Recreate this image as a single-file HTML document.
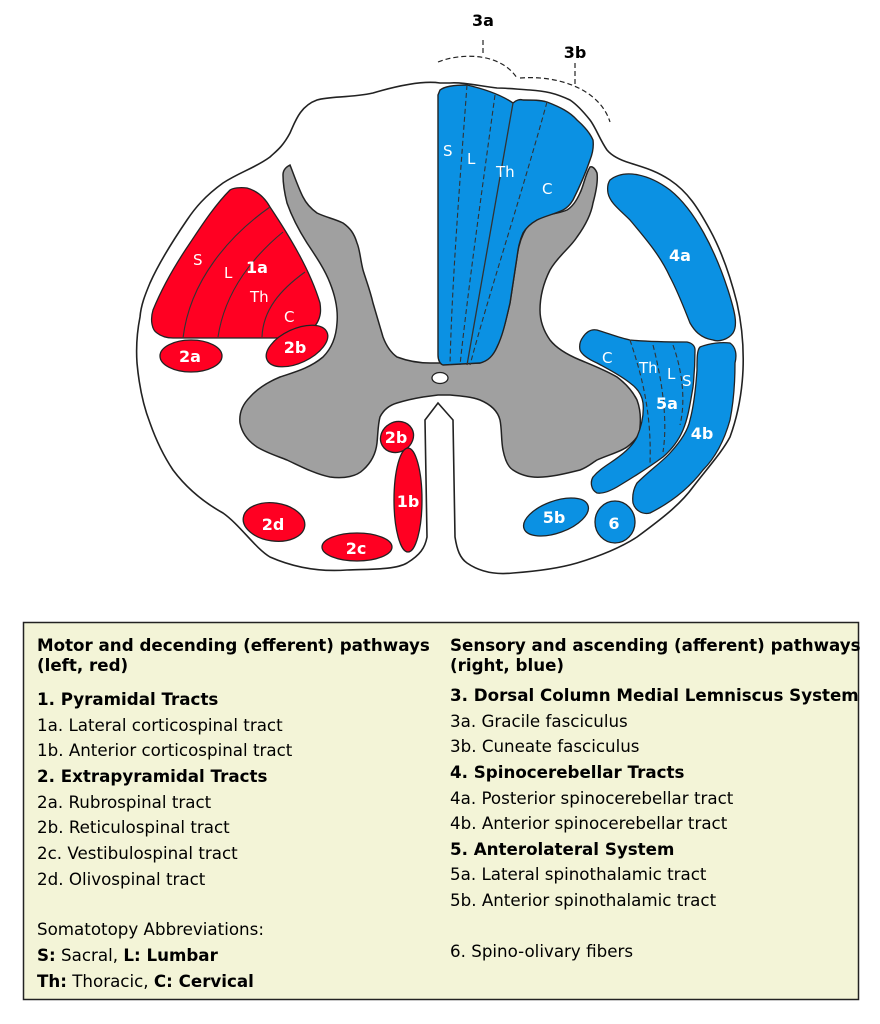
<!DOCTYPE html>
<html><head><meta charset="utf-8"><style>
html,body{margin:0;padding:0;background:#fff;}
svg{display:block;}
text{font-family:"DejaVu Sans","Liberation Sans",sans-serif;}
</style></head><body>
<svg width="880" height="1024" viewBox="0 0 880 1024" xmlns="http://www.w3.org/2000/svg">
<path d="M440 83 C420 80 390 88 373 93 C350 98 330 96 317 100 C300 106 295 122 290 133 C282 148 275 152 270 157 C255 168 240 172 223 183 C205 196 195 208 187 220 C170 245 158 265 150 283 C145 295 141 305 140 317 C137 332 136 348 137 363 C139 385 143 405 150 423 C156 440 163 455 173 470 C188 490 205 503 223 513 C240 525 255 548 270 557 C295 568 320 572 347 570 C370 569 395 570 407 563 C420 555 425 548 427 537 L425 420 L438 403 L453 420 L455 537 C457 550 460 558 467 563 C480 572 495 575 513 573 C540 571 560 568 577 563 C600 556 620 548 637 537 C660 520 680 505 693 487 C710 465 722 452 730 437 C738 415 742 392 743 370 C744 345 742 325 737 303 C730 275 722 252 710 230 C698 208 688 192 670 180 C655 170 642 167 630 163 C620 160 612 156 607 150 C600 140 596 128 590 120 C582 110 576 104 570 100 C555 93 545 91 530 90 C515 89 505 88 497 88 C480 86 462 82 450 83 Z" fill="#fff" stroke="#222" stroke-width="1.6"/>
<path d="M290 165 C286 167 283 170 283 175 C283 185 285 195 287 203 C293 220 300 232 307 243 C317 258 325 270 330 283 C336 298 338 312 337 323 C336 340 330 350 323 357 C310 368 295 372 280 377 C268 382 258 388 250 397 C242 405 239 414 240 423 C242 433 248 441 257 447 C267 453 277 456 287 460 C300 466 315 474 330 477 C345 479 357 476 363 470 C372 462 376 452 377 443 C378 433 378 424 380 417 C384 409 390 405 397 403 C410 399 417 398 423 397 L438 395 L450 395 C462 396 472 397 480 400 C492 405 498 412 500 420 C502 430 501 440 503 450 C505 460 508 467 513 470 C522 476 532 478 543 477 C556 476 568 473 580 470 C588 467 592 463 597 460 C608 455 620 452 627 447 C636 440 640 434 640 427 C641 417 640 408 637 400 C632 390 625 383 617 377 C605 370 592 365 580 360 C568 355 557 349 550 340 C543 330 540 320 540 310 C540 295 544 282 550 270 C558 256 570 248 577 237 C585 226 591 215 593 203 C596 192 598 180 597 173 C595 168 592 166 590 167 C585 175 584 185 580 193 C576 202 572 207 567 210 C558 214 548 214 540 217 C533 220 529 223 527 227 C520 238 518 248 517 257 L510 303 C506 320 503 333 497 347 C493 356 488 360 480 363 L430 363 C415 363 405 360 397 357 C390 352 386 345 383 337 L373 303 C370 290 366 280 363 270 C360 258 360 250 357 243 C354 233 350 228 343 223 C335 219 325 217 317 213 C310 208 306 203 303 197 C298 187 294 175 290 165 Z" fill="#a0a0a0" stroke="#222" stroke-width="1.5"/>
<ellipse cx="440" cy="378" rx="8" ry="5.5" fill="#fff" stroke="#222" stroke-width="1.3"/>
<path d="M440 90 C445 86 455 85 467 85 C480 88 500 94 513 103 C516 100 520 99 523 100 C533 100 540 100 547 102 C560 107 570 112 577 120 C585 127 590 133 593 140 C594 148 592 155 590 160 C585 175 578 190 573 200 C570 205 567 208 563 210 C555 214 545 216 537 220 C530 224 526 228 523 233 C519 242 518 250 517 257 L510 303 C506 320 503 335 497 347 C493 356 488 361 480 363 L443 365 C440 364 438 360 438 355 L438 95 Z" fill="#0b91e3" stroke="#222" stroke-width="1.4"/>
<path d="M513 103 L467 365" stroke="#333" stroke-width="1.3" fill="none"/>
<path d="M467 85 C460 180 452 280 450 365" stroke="#333" stroke-width="1.1" fill="none" stroke-dasharray="5,3"/>
<path d="M495 95 C482 190 468 290 460 365" stroke="#333" stroke-width="1.1" fill="none" stroke-dasharray="5,3"/>
<path d="M547 102 C520 200 490 290 470 365" stroke="#333" stroke-width="1.1" fill="none" stroke-dasharray="5,3"/>
<path d="M610 180 C625 168 650 175 670 190 C695 210 715 250 728 290 C735 312 738 325 733 333 C728 340 718 342 713 340 C700 338 694 330 690 323 C684 308 678 292 670 277 C660 255 645 238 630 220 C620 210 610 203 608 193 C607 187 608 183 610 180 Z" fill="#0b91e3" stroke="#222" stroke-width="1.3"/>
<path d="M700 347 C710 343 722 342 730 343 C736 347 737 355 735 363 C735 385 733 405 730 420 C723 445 713 460 703 470 C690 487 672 502 650 513 C642 515 635 510 633 503 C632 495 634 488 637 483 C650 470 662 462 670 453 C682 440 688 430 690 420 C694 405 696 385 697 370 C697 358 697 350 700 347 Z" fill="#0b91e3" stroke="#222" stroke-width="1.3"/>
<path d="M583 337 C587 331 592 329 597 330 C610 334 620 338 630 340 C650 342 670 342 687 342 C692 343 695 346 695 350 C695 365 694 378 693 387 C690 405 688 418 683 430 C678 442 671 450 663 457 C648 468 632 478 617 487 C610 491 603 494 597 493 C591 490 590 482 593 477 C598 471 604 467 610 463 C622 455 632 447 637 437 C642 425 644 413 643 403 C642 395 637 388 630 383 C620 375 608 369 597 363 C588 359 582 355 580 350 C579 345 580 341 583 337 Z" fill="#0b91e3" stroke="#222" stroke-width="1.3"/>
<path d="M630 340 C640 370 652 410 650 463" stroke="#333" stroke-width="1.1" fill="none" stroke-dasharray="5,3"/>
<path d="M653 345 C662 380 668 420 663 452" stroke="#333" stroke-width="1.1" fill="none" stroke-dasharray="5,3"/>
<path d="M673 345 C682 370 686 400 680 425" stroke="#333" stroke-width="1.1" fill="none" stroke-dasharray="5,3"/>
<ellipse cx="556" cy="517" rx="34" ry="16" transform="rotate(-20 556 517)" fill="#0b91e3" stroke="#222" stroke-width="1.3"/>
<ellipse cx="615" cy="522" rx="20" ry="21" fill="#0b91e3" stroke="#222" stroke-width="1.3"/>
<path d="M247 188 C240 187 233 188 230 190 C215 205 202 225 190 243 C175 265 162 288 153 310 C150 320 152 330 157 333 C162 337 168 338 173 338 L287 338 C300 336 312 332 317 323 C321 316 321 310 320 303 C310 270 290 237 270 207 C265 198 258 191 247 188 Z" fill="#ff0022" stroke="#222" stroke-width="1.3"/>
<path d="M270 207 C230 235 190 280 183 338" stroke="#333" stroke-width="1.1" fill="none"/>
<path d="M283 232 C255 255 225 290 218 337" stroke="#333" stroke-width="1.1" fill="none"/>
<path d="M305 272 C280 290 263 310 262 337" stroke="#333" stroke-width="1.1" fill="none"/>
<ellipse cx="191" cy="356" rx="31" ry="16" fill="#ff0022" stroke="#222" stroke-width="1.3"/>
<ellipse cx="297" cy="346" rx="33" ry="17" transform="rotate(-25 297 346)" fill="#ff0022" stroke="#222" stroke-width="1.3"/>
<ellipse cx="397" cy="437" rx="17" ry="15" transform="rotate(-30 397 437)" fill="#ff0022" stroke="#222" stroke-width="1.3"/>
<ellipse cx="408" cy="500" rx="14" ry="52" fill="#ff0022" stroke="#222" stroke-width="1.3"/>
<ellipse cx="274" cy="522" rx="31" ry="19" transform="rotate(8 274 522)" fill="#ff0022" stroke="#222" stroke-width="1.3"/>
<ellipse cx="357" cy="547" rx="35" ry="14" fill="#ff0022" stroke="#222" stroke-width="1.3"/>
<g fill="#fff" font-size="15">
<text x="443" y="156">S</text><text x="467" y="164">L</text><text x="496" y="177">Th</text><text x="542" y="194">C</text>
<text x="193" y="265">S</text><text x="224" y="278">L</text><text x="250" y="302">Th</text><text x="284" y="322">C</text>
<text x="602" y="363">C</text><text x="639" y="373">Th</text><text x="667" y="379">L</text><text x="682" y="386">S</text>
</g>
<g fill="#fff" font-size="16" font-weight="bold" text-anchor="middle">
<text x="257" y="273">1a</text><text x="190" y="362">2a</text><text x="295" y="353">2b</text><text x="396" y="443">2b</text>
<text x="408" y="507">1b</text><text x="273" y="530">2d</text><text x="356" y="554">2c</text>
<text x="680" y="261">4a</text><text x="702" y="439">4b</text><text x="667" y="409">5a</text><text x="554" y="523">5b</text><text x="614" y="529">6</text>
</g>
<g fill="none" stroke="#222" stroke-width="1.2" stroke-dasharray="5,3">
<path d="M438 62 C460 53 500 52 517 78"/>
<path d="M483 40 L483 55"/>
<path d="M520 78 C560 75 600 90 610 122"/>
<path d="M575 63 L575 85"/>
</g>
<text x="483" y="26" font-size="16" font-weight="bold" text-anchor="middle" fill="#000">3a</text>
<text x="575" y="58" font-size="16" font-weight="bold" text-anchor="middle" fill="#000">3b</text>
<rect x="23.5" y="622.5" width="835" height="377" fill="#f3f4d7" stroke="#222" stroke-width="1.5"/>
<g font-size="16.7" fill="#000">
<text x="37" y="651" font-weight="bold">Motor and decending (efferent) pathways</text>
<text x="37" y="671" font-weight="bold">(left, red)</text>
<text x="37" y="705" font-weight="bold">1. Pyramidal Tracts</text>
<text x="37" y="731">1a. Lateral corticospinal tract</text>
<text x="37" y="756">1b. Anterior corticospinal tract</text>
<text x="37" y="782" font-weight="bold">2. Extrapyramidal Tracts</text>
<text x="37" y="808">2a. Rubrospinal tract</text>
<text x="37" y="833">2b. Reticulospinal tract</text>
<text x="37" y="859">2c. Vestibulospinal tract</text>
<text x="37" y="885">2d. Olivospinal tract</text>
<text x="37" y="935">Somatotopy Abbreviations:</text>
<text x="37" y="961"><tspan font-weight="bold">S:</tspan> Sacral, <tspan font-weight="bold">L: Lumbar</tspan></text>
<text x="37" y="987"><tspan font-weight="bold">Th:</tspan> Thoracic, <tspan font-weight="bold">C: Cervical</tspan></text>
<text x="450" y="651" font-weight="bold">Sensory and ascending (afferent) pathways</text>
<text x="450" y="671" font-weight="bold">(right, blue)</text>
<text x="450" y="701" font-weight="bold">3. Dorsal Column Medial Lemniscus System</text>
<text x="450" y="727">3a. Gracile fasciculus</text>
<text x="450" y="752">3b. Cuneate fasciculus</text>
<text x="450" y="778" font-weight="bold">4. Spinocerebellar Tracts</text>
<text x="450" y="804">4a. Posterior spinocerebellar tract</text>
<text x="450" y="829">4b. Anterior spinocerebellar tract</text>
<text x="450" y="855" font-weight="bold">5. Anterolateral System</text>
<text x="450" y="880">5a. Lateral spinothalamic tract</text>
<text x="450" y="906">5b. Anterior spinothalamic tract</text>
<text x="450" y="957">6. Spino-olivary fibers</text>
</g>
</svg>
</body></html>
